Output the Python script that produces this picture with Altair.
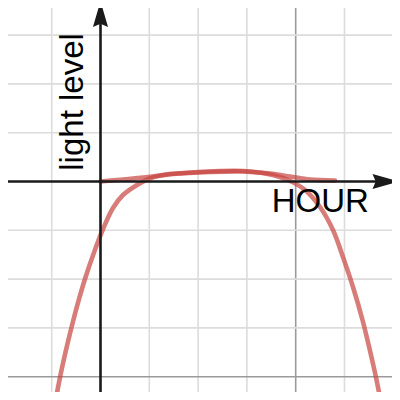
import altair as alt
import pandas as pd

# ---- data (graph units) ----
curve_a_x = [-0.955, -0.908, -0.820, -0.721, -0.592, -0.445, -0.318, -0.137, 0.061, 0.256,
             0.461, 0.748, 0.973, 1.281, 1.691, 2.449, 2.920, 3.432, 3.842, 4.191, 4.498,
             4.764, 4.990, 5.174, 5.369, 5.533, 5.635, 5.727, 5.775]
curve_a_y = [-4.65, -4.416, -3.965, -3.514, -2.982, -2.428, -1.998, -1.465, -0.953, -0.543,
             -0.277, -0.072, 0.051, 0.133, 0.174, 0.215, 0.215, 0.154, 0.031, -0.174, -0.523,
             -0.994, -1.609, -2.162, -2.838, -3.514, -3.965, -4.416, -4.65]

curve_b_x = [0.0, 0.461, 0.973, 1.486, 2.244, 2.920, 3.473, 3.883, 4.293, 4.805]
curve_b_y = [0.0, 0.041, 0.092, 0.154, 0.195, 0.205, 0.164, 0.102, 0.041, 0.020]

minor_x = [-2, -1, 1, 2, 3, 5, 6]
major_x = [4]
minor_y = [-3, -2, -1, 1, 2, 3]
major_y = [-4]

x_label = "HOUR"
y_label = "light level"

X_DOM = [-1.8955, 5.9734]
Y_DOM = [-4.3135, 3.5553]

xs = alt.Scale(domain=X_DOM, nice=False, zero=False)
ys = alt.Scale(domain=Y_DOM, nice=False, zero=False)


def X(field):
    return alt.X(field, type="quantitative", scale=xs, axis=None)


def Y(field):
    return alt.Y(field, type="quantitative", scale=ys, axis=None)


vgrid = pd.DataFrame({"x": minor_x + major_x,
                      "kind": ["minor"] * len(minor_x) + ["major"] * len(major_x)})
hgrid = pd.DataFrame({"y": minor_y + major_y,
                      "kind": ["minor"] * len(minor_y) + ["major"] * len(major_y)})

grid_color = alt.Color("kind:N", scale=alt.Scale(domain=["minor", "major"],
                                                  range=["#dcdcdc", "#9a9a9a"]), legend=None)

vlines = alt.Chart(vgrid).mark_rule(strokeWidth=1.6).encode(x=X("x"), color=grid_color)
hlines = alt.Chart(hgrid).mark_rule(strokeWidth=1.6).encode(y=Y("y"), color=grid_color)

axes_df = pd.DataFrame({"x": [0.0, X_DOM[0]], "x2": [0.0, 5.84],
                        "y": [Y_DOM[0], 0.0], "y2": [3.43, 0.0]})
axes = alt.Chart(axes_df).mark_rule(color="#1a1a1a", strokeWidth=2.6).encode(
    x=X("x"), x2="x2", y=Y("y"), y2="y2")

up_df = pd.DataFrame({"x": [0.0], "y": [3.43]})
right_df = pd.DataFrame({"x": [5.84], "y": [0.0]})
arrow_up = alt.Chart(up_df).mark_point(
    shape="M0,-1 L0.58,1 L0,0.75 L-0.58,1 Z", size=676, filled=True,
    color="#1a1a1a", opacity=1, strokeWidth=0).encode(x=X("x"), y=Y("y"))
arrow_right = alt.Chart(right_df).mark_point(
    shape="M1,0 L-1,0.58 L-0.75,0 L-1,-0.58 Z", size=676, filled=True,
    color="#1a1a1a", opacity=1, strokeWidth=0).encode(x=X("x"), y=Y("y"))

a_df = pd.DataFrame({"x": curve_a_x, "y": curve_a_y})
b_df = pd.DataFrame({"x": curve_b_x, "y": curve_b_y})
line_a = alt.Chart(a_df).mark_line(color="#c74440", strokeWidth=4.6, opacity=0.7,
                                   interpolate="catmull-rom", clip=True,
                                   strokeCap="round").encode(x=X("x"), y=Y("y"), order="x:Q")
line_b = alt.Chart(b_df).mark_line(color="#c74440", strokeWidth=4.6, opacity=0.7,
                                   interpolate="catmull-rom", clip=True,
                                   strokeCap="round").encode(x=X("x"), y=Y("y"), order="x:Q")

xl_df = pd.DataFrame({"x": [3.51], "y": [-0.625], "t": [x_label]})
yl_df = pd.DataFrame({"x": [-0.36], "y": [1.63], "t": [y_label]})
xlab = alt.Chart(xl_df).mark_text(font="Liberation Sans", fontSize=33, align="left",
                                  baseline="alphabetic", color="#000000").encode(
    x=X("x"), y=Y("y"), text="t:N")
ylab = alt.Chart(yl_df).mark_text(font="Liberation Sans", fontSize=33, align="center",
                                  baseline="alphabetic", angle=270, color="#000000").encode(
    x=X("x"), y=Y("y"), text="t:N")

chart = alt.layer(vlines, hlines, line_a, line_b, axes, arrow_up, arrow_right, xlab, ylab).properties(
    width=384, height=384,
    padding=0,
    autosize=alt.AutoSizeParams(type="none"),
    background="white",
).configure_view(stroke=None)

chart.save("out.html", embed_options={"renderer": "svg", "actions": False})
